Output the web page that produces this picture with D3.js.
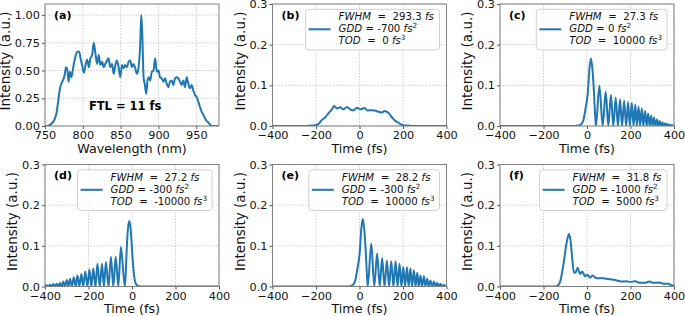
<!DOCTYPE html>
<html>
<head>
<meta charset="utf-8">
<script src="https://cdn.jsdelivr.net/npm/d3@7"></script>
<style>
  body { margin: 0; background: #fff; }
  svg { font-family: "DejaVu Sans", sans-serif; }
</style>
</head>
<body>
<svg id="fig" width="685" height="316"></svg>
<script>
// spectrum of panel (a): [wavelength nm, intensity]
const spectrum = [[750,0],[753,0],[757.5,0.015],[762,0.051],[765,0.11],[767.6,0.23],[769.8,0.34],[772.9,0.40],[776,0.46],
  [777.7,0.53],[779.5,0.51],[781.3,0.40],[783,0.49],[785,0.44],[787.3,0.53],[790,0.62],[792.6,0.67],[795.2,0.67],
  [797,0.61],[799,0.55],[801.4,0.48],[803.6,0.55],[805.8,0.60],[808,0.53],[810,0.61],[812.3,0.64],[814.5,0.75],
  [816.7,0.65],[818.9,0.56],[821,0.64],[823.3,0.55],[825.5,0.58],[827.7,0.53],[829.8,0.56],[832,0.59],[834,0.61],
  [836.4,0.53],[838.6,0.56],[840.8,0.47],[843,0.55],[845,0.59],[847.3,0.53],[849.5,0.44],[851.7,0.55],[853.9,0.52],
  [856,0.55],[858.3,0.53],[860.5,0.58],[862.7,0.59],[864.9,0.53],[867,0.56],[869.3,0.52],[871.5,0.47],[873.7,0.53],
  [875.9,0.74],[877.2,1.0],[878.6,0.83],[880.3,0.44],[882,0.37],[883.8,0.29],[885.5,0.41],[887.3,0.44],[889,0.41],
  [891.3,0.49],[893.4,0.50],[895.6,0.61],[897.8,0.49],[900,0.50],[902,0.44],[904.3,0.43],[906.5,0.40],[908.7,0.43],
  [910.9,0.38],[913,0.35],[915.3,0.40],[917.5,0.41],[919.7,0.37],[921.9,0.43],[924,0.44],[926.3,0.43],[928.5,0.40],
  [930.7,0.37],[932.9,0.41],[935,0.35],[937.3,0.44],[939.5,0.38],[941.7,0.34],[943.9,0.37],[946,0.32],[948.3,0.28],
  [950.5,0.26],[952.7,0.22],[954.9,0.17],[957,0.13],[959.3,0.10],[961.5,0.07],[963.7,0.045],[965.9,0.03],[968,0.015],
  [970.3,0],[981,0]];

// temporal intensity profiles: [time fs, intensity]
const pulseB = [[-400,0],[-250,0],[-215,0.001],[-204,0.002],[-189,0.005],[-173,0.015],[-158,0.021],[-143,0.031],
  [-127,0.041],[-116,0.049],[-104,0.043],[-89,0.046],[-74,0.041],[-58,0.047],[-43,0.041],[-28,0.038],[-12,0.045],
  [3,0.041],[23,0.044],[38,0.038],[54,0.039],[69,0.038],[87,0.035],[103,0.033],[115,0.037],[126,0.035],[136,0.031],
  [149,0.021],[164,0.013],[179,0.008],[194,0.003],[210,0.001],[250,0],[400,0]];

const pulseC = [[-400,0],[-60,0],[-32,0.002],[-18,0.012],[-6,0.045],[4,0.083],[11,0.14],[18,0.166],[25,0.14],
  [32,0.083],[37,0.03],[41,0],[57,0.099],[72,0],[86,0.084],[98,0],[110,0.076],[121,0],[132,0.070],[142,0],
  [152,0.066],[161,0],[171,0.062],[180,0],[189,0.059],[197,0],[206,0.057],[214,0],[222,0.053],[229,0],[237,0.048],
  [244,0],[252,0.043],[259,0],[267,0.037],[274,0],[281,0.031],[288,0],[295,0.026],[301,0],[308,0.021],[314,0],
  [321,0.016],[327,0],[334,0.012],[340,0],[347,0.009],[353,0],[360,0.007],[366,0],[372,0.005],[378,0],[384,0.003],
  [390,0],[396,0.002],[400,0]];

const pulseD = [[-400,0.002],[-392,0.003],[-384,0],[-377,0.004],[-369,0],[-362,0.006],[-354,0],[-346,0.007],[-338,0],
  [-331,0.009],[-323,0],[-316,0.012],[-308,0],[-300,0.016],[-292,0],[-285,0.019],[-276,0],[-268,0.023],[-259,0],
  [-251,0.027],[-242,0],[-233,0.031],[-224,0],[-215,0.037],[-205,0],[-196,0.042],[-187,0],[-178,0.044],[-168,0],
  [-159,0.056],[-148,0],[-138,0.056],[-129,0],[-120,0.060],[-108,0],[-97,0.073],[-86,0],[-75,0.073],[-63,0],
  [-51,0.097],[-33,0],[-29,0.03],[-25,0.083],[-19,0.14],[-12,0.161],[-6,0.14],[1,0.083],[8,0.035],[15,0.01],
  [25,0.002],[40,0],[400,0]];

const pulseE = [[-400,0],[-50,0],[-35,0.002],[-21,0.012],[-9,0.045],[1,0.083],[8,0.14],[15,0.166],[22,0.14],
  [29,0.083],[34,0.03],[38,0],[54,0.106],[68,0],[81,0.081],[93,0],[104,0.070],[115,0],[126,0.064],[136,0],
  [146,0.062],[156,0],[166,0.062],[175,0],[184,0.056],[193,0],[201,0.048],[210,0],[218,0.048],[226,0],[234,0.045],
  [242,0],[250,0.040],[258,0],[265,0.034],[273,0],[280,0.027],[288,0],[296,0.026],[303,0],[311,0.019],[318,0],
  [326,0.015],[334,0],[342,0.012],[350,0],[357,0.009],[364,0],[372,0.007],[380,0],[388,0.004],[394,0],[400,0.001]];

const pulseF = [[-400,0],[-150,0],[-139,0.001],[-124,0.011],[-109,0.052],[-93,0.11],[-83,0.129],[-75,0.11],
  [-68,0.069],[-60,0.034],[-52,0.035],[-43,0.046],[-32,0.031],[-22,0.037],[-9,0.025],[1,0.029],[14,0.022],
  [26,0.027],[41,0.021],[55,0.020],[68,0.021],[90,0.019],[114,0.017],[137,0.015],[160,0.012],[182,0.013],
  [198,0.011],[221,0.013],[244,0.009],[267,0.009],[286,0.012],[305,0.009],[328,0.010],[351,0.007],[374,0.007],
  [389,0.003],[400,0.001]];

const wlTicks = [750, 800, 850, 900, 950];
const specYTicks = [0, 0.25, 0.5, 0.75, 1.0];
const timeTicks = [-400, -200, 0, 200, 400];
const pulseYTicks = [0, 0.1, 0.2, 0.3];

const panelLabels = ["(a)", "(b)", "(c)", "(d)", "(e)", "(f)"];
const fwhm = [293.3, 27.3, 27.2, 28.2, 31.8];
const gdd = [-700, 0, -300, -300, -1000];
const tod = [0, 10000, -10000, 10000, 5000];

const svg = d3.select("#fig");
const colLeft = [45, 272.5, 500], rowTop = [4, 164.5];
const pw = 174, ph = 122;
const blue = "#1f77b4";

function drawPanel(i, cfg) {
    let left = colLeft[i % 3], top = rowTop[Math.floor(i / 3)];
    let g = svg.append("g").attr("transform", `translate(${left},${top})`);

    let x = d3.scaleLinear().domain(cfg.xDomain).range([0, pw]);
    let y = d3.scaleLinear().domain(cfg.yDomain).range([ph, 0]);

    // dotted grid
    g.append("g").selectAll("line").data(cfg.xTicks).join("line")
        .attr("x1", d => x(d)).attr("x2", d => x(d))
        .attr("y1", 0).attr("y2", ph);
    g.append("g").selectAll("line").data(cfg.yTicks).join("line")
        .attr("x1", 0).attr("x2", pw)
        .attr("y1", d => y(d)).attr("y2", d => y(d));
    g.selectAll("g line")
        .attr("stroke", "#c4c4c4").attr("stroke-width", 0.8).attr("stroke-dasharray", "1.6,1.4");

    g.append("clipPath").attr("id", "clip" + i)
        .append("rect").attr("width", pw).attr("height", ph);

    let line = d3.line()
        .x(d => x(d[0]))
        .y(d => y(d[1]))
        .curve(d3.curveMonotoneX);

    g.append("path")
        .datum(cfg.data)
        .attr("clip-path", `url(#clip${i})`)
        .attr("fill", "none")
        .attr("stroke", blue)
        .attr("stroke-width", 2)
        .attr("stroke-linejoin", "round")
        .attr("d", line);

    // axes
    let xAxis = g.append("g")
        .attr("transform", `translate(0,${ph})`)
        .call(d3.axisBottom(x).tickValues(cfg.xTicks).tickFormat(cfg.xFmt).tickSize(3).tickPadding(2));
    let yAxis = g.append("g")
        .call(d3.axisLeft(y).tickValues(cfg.yTicks).tickFormat(cfg.yFmt).tickSize(3).tickPadding(2));
    [xAxis, yAxis].forEach(a => {
        a.attr("font-family", null).attr("font-size", 11.3);
        a.select(".domain").remove();
        a.selectAll(".tick line").attr("stroke", "#555");
        a.selectAll(".tick text").attr("fill", "#111");
    });

    let tickW = d3.max(yAxis.selectAll(".tick text").nodes(), n => n.getBBox().width);

    g.append("text")
        .attr("transform", `translate(${-5 - tickW - 5},${ph / 2 - 4}) rotate(-90)`)
        .attr("text-anchor", "middle")
        .attr("font-size", 13.5)
        .attr("fill", "#111")
        .text("Intensity (a.u.)");

    g.append("text")
        .attr("x", pw / 2).attr("y", ph + 26.5)
        .attr("text-anchor", "middle")
        .attr("font-size", 12.7)
        .attr("fill", "#111")
        .text(cfg.xLabel);

    // frame
    g.append("rect")
        .attr("width", pw).attr("height", ph)
        .attr("fill", "none").attr("stroke", "#808080").attr("stroke-width", 1);

    g.append("text")
        .attr("x", 9).attr("y", 14.5)
        .attr("font-size", 11).attr("font-weight", "bold")
        .text(panelLabels[i]);

    return {g, x, y};
}

function drawLegend(g, k) {
    let rows = [
        [{t: "FWHM", it: 1}, {t: "  =  " + fwhm[k] + " "}, {t: "fs", it: 1}],
        [{t: "GDD", it: 1}, {t: " = " + gdd[k] + " "}, {t: "fs", it: 1}, {t: "2", sup: 1}],
        [{t: "TOD", it: 1}, {t: "  =  " + tod[k] + " "}, {t: "fs", it: 1}, {t: "3", sup: 1}]
    ];
    let lg = g.append("g");
    let box = lg.append("rect");
    let txt = lg.append("g").attr("font-size", 10.2).attr("fill", "#111");
    rows.forEach((r, j) => {
        let t = txt.append("text").attr("x", 0).attr("y", 10.8 + j * 12);
        r.forEach(p => {
            let s = t.append("tspan").text(p.t).attr("xml:space", "preserve").style("white-space", "pre");
            if (p.it) s.attr("font-style", "italic");
            if (p.sup) s.attr("font-size", 7.2).attr("dy", -4);
        });
    });
    let tw = txt.node().getBBox().width;
    let bw = tw + 33 + 5, bh = 40.7;
    let bx = pw - 7 - bw, by = 5.3;
    txt.attr("transform", `translate(${bx + 33},${by})`);
    box.attr("x", bx).attr("y", by).attr("width", bw).attr("height", bh)
        .attr("rx", 3).attr("fill", "#fff").attr("fill-opacity", 0.8)
        .attr("stroke", "#d0d0d0").attr("stroke-width", 1);
    lg.append("line")
        .attr("x1", bx + 3).attr("x2", bx + 25)
        .attr("y1", by + 20).attr("y2", by + 20)
        .attr("stroke", blue).attr("stroke-width", 2);
}

let fmtTime = d3.format("d");

let pa = drawPanel(0, {
    data: spectrum, xDomain: [750, 980], yDomain: [0, 1.1],
    xTicks: wlTicks, yTicks: specYTicks,
    xFmt: d3.format("d"), yFmt: d3.format(".2f"),
    xLabel: "Wavelength (nm)"
});
pa.g.append("text")
    .attr("x", pa.x(808)).attr("y", pa.y(0.145))
    .attr("font-size", 11.5).attr("font-weight", "bold")
    .text("FTL = 11 fs");

let pulses = [pulseB, pulseC, pulseD, pulseE, pulseF];
pulses.forEach((p, k) => {
    let pn = drawPanel(k + 1, {
        data: p, xDomain: [-400, 400], yDomain: [0, 0.3],
        xTicks: timeTicks, yTicks: pulseYTicks,
        xFmt: fmtTime, yFmt: d3.format(".1f"),
        xLabel: "Time (fs)"
    });
    drawLegend(pn.g, k);
});
</script>
</body>
</html>
